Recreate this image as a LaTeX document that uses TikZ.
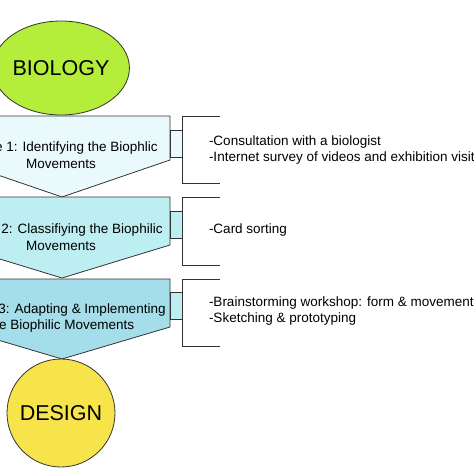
\documentclass[tikz,border=0pt]{standalone}
\usepackage{fontspec}
\setmainfont{Liberation Sans}
\usetikzlibrary{shapes.geometric}
\definecolor{biogreen}{HTML}{B4EE3A}
\definecolor{desyellow}{HTML}{F7E44A}
\definecolor{phaseA}{HTML}{EAF9FB}
\definecolor{phaseB}{HTML}{BDEEF2}
\definecolor{phaseC}{HTML}{A3DEEA}
\definecolor{edgegray}{HTML}{333333}
\begin{document}
\begin{tikzpicture}[x=1pt, y=-1pt, draw=edgegray, line width=0.8pt, inner sep=0, outer sep=0,
    txt/.style={font=\fontsize{13.5}{16.5}\selectfont},
    big/.style={font=\fontsize{21.5}{24}\selectfont}]
  \useasboundingbox (0,0) rectangle (474,474);
  \clip (0,0) rectangle (474,474);

  % phase arrows
  \draw[fill=phaseA] (-46,116) -- (170,116) -- (170,160) -- (62,197) -- (-46,160) -- cycle;
  \draw[fill=phaseB] (-46,197) -- (170,197) -- (170,245) -- (62,278) -- (-46,245) -- cycle;
  \draw[fill=phaseC] (-46,279) -- (170,279) -- (170,327) -- (62,359) -- (-46,327) -- cycle;

  \node[txt, align=center] (phase1) at (61,155) {Phase 1: Identifying the Biophlic\\Movements};
  \node[txt, align=center] (phase2) at (61,237) {Phase 2: Classifiying the Biophilic\\Movements};
  \node[txt, align=center] (phase3) at (61,318) {Phase 3: Adapting \& Implementing\\the Biophilic Movements};

  % start and end
  \node[ellipse, draw, fill=biogreen, big, minimum width=108, minimum height=94] (bio) at (61,68) {BIOLOGY};
  \node[circle, draw, fill=desyellow, big, minimum size=108] (design) at (61,413) {DESIGN};

  % links to the methods
  \draw[fill=phaseA] (170,130) rectangle (182,157);
  \draw[fill=phaseB] (170,211) rectangle (182,238);
  \draw[fill=phaseB] (170,292) rectangle (182,319);

  \coordinate (m1top) at (220,116);
  \coordinate (m1bot) at (220,183);
  \coordinate (m2top) at (220,197);
  \coordinate (m2bot) at (220,265);
  \coordinate (m3top) at (220,279);
  \coordinate (m3bot) at (220,346);
  \draw (m1top) -- ([xshift=-38pt]m1top) -- ([xshift=-38pt]m1bot) -- (m1bot);
  \draw (m2top) -- ([xshift=-38pt]m2top) -- ([xshift=-38pt]m2bot) -- (m2bot);
  \draw (m3top) -- ([xshift=-38pt]m3top) -- ([xshift=-38pt]m3bot) -- (m3bot);

  \node[txt, anchor=west, align=left] (meth1) at (209,150) {-Consultation with a biologist\\-Internet survey of videos and exhibition visits};
  \node[txt, anchor=west, align=left] (meth2) at (209,230) {-Card sorting};
  \node[txt, anchor=west, align=left] (meth3) at (209,311) {-Brainstorming workshop: form \& movement\\-Sketching \& prototyping};
\end{tikzpicture}
\end{document}
